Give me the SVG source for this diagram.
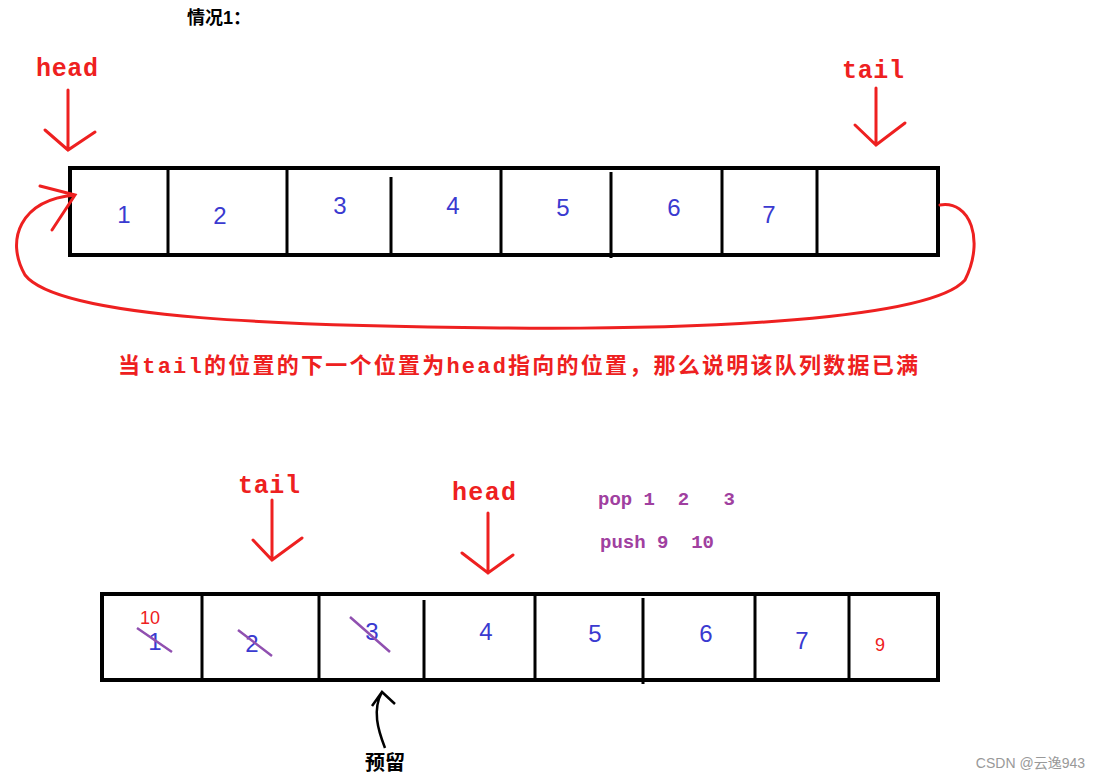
<svg xmlns="http://www.w3.org/2000/svg" width="1099" height="779" viewBox="0 0 1099 779">
<style>
.box{fill:none;stroke:#000;stroke-width:4}
.dv{stroke:#000;stroke-width:3}
.n{font-family:"Liberation Sans",sans-serif;font-size:24px;fill:#3a3ad0;text-anchor:middle}
.red{fill:#ee2020;font-family:"Liberation Mono","Noto Sans CJK SC",monospace;font-weight:bold}
.ra{fill:none;stroke:#ee2020;stroke-width:3;stroke-linecap:round}
.pu{fill:#a040a0;font-family:"Liberation Mono",monospace;font-weight:bold;font-size:19px}
.st{stroke:#9050b0;stroke-width:2.5}
</style>
<rect width="1099" height="779" fill="#fff"/>
<text x="187" y="24" font-family="Liberation Sans,Noto Sans CJK SC,sans-serif" font-weight="bold" font-size="18">情况1：</text>
<g id="row1">
<rect class="box" x="70" y="168" width="868" height="87"/>
<path class="dv" d="M168 168V255M287 168V255M391 177V255M501 168V255M611 172V258M722 168V255M817 168V255"/>
<text class="n" x="124" y="223">1</text><text class="n" x="220" y="224">2</text><text class="n" x="340" y="214">3</text><text class="n" x="453" y="214">4</text><text class="n" x="563" y="216">5</text><text class="n" x="674" y="216">6</text><text class="n" x="769" y="223">7</text>
</g>
<g id="head1"><text class="red" x="36" y="76" font-size="25" textLength="62">head</text><path class="ra" d="M68 90V150M45 130L68 150L95 132"/></g>
<g id="tail1"><text class="red" x="842" y="78" font-size="25" textLength="62">tail</text><path class="ra" d="M876 88V145M855 125L876 145L905 123"/></g>
<g id="connectors">
<path class="ra" stroke-width="2" d="M940 205C970 200 985 240 965 280C930 320 700 330 500 328C300 326 60 320 25 275C5 240 20 200 75 195M40 186L75 195L52 230"/>
<path fill="none" stroke="#000" stroke-width="2.5" d="M385 748C378 730 372 710 382 692M372 706L382 692L395 704"/>
</g>
<text class="red" x="118" y="373" font-size="22" textLength="800">当tail的位置的下一个位置为head指向的位置，那么说明该队列数据已满</text>
<g id="row2">
<rect class="box" x="102" y="594" width="836" height="86"/>
<path class="dv" d="M202 594V680M319 594V680M424 600V680M535 594V680M643 598V684M755 594V680M849 594V680"/>
<text class="n" x="155" y="650">1</text><text class="n" x="252" y="652">2</text><text class="n" x="372" y="640">3</text><text class="n" x="486" y="640">4</text><text class="n" x="595" y="642">5</text><text class="n" x="706" y="642">6</text><text class="n" x="802" y="649">7</text>
<path class="st" d="M137 628L172 652M238 630L272 656M350 617L390 652"/>
<text x="150" y="624" fill="#ee2020" font-family="Liberation Sans,sans-serif" font-size="18" text-anchor="middle">10</text>
<text x="880" y="651" fill="#ee2020" font-family="Liberation Sans,sans-serif" font-size="18" text-anchor="middle">9</text>
</g>
<g id="tail2"><text class="red" x="238" y="493" font-size="25" textLength="62">tail</text><path class="ra" d="M272 500V560M253 540L272 560L302 538"/></g>
<g id="head2"><text class="red" x="452" y="500" font-size="25" textLength="64">head</text><path class="ra" d="M488 513V573M462 553L488 573L513 555"/></g>
<text class="pu" x="598" y="505" xml:space="preserve">pop 1  2   3</text>
<text class="pu" x="600" y="548" xml:space="preserve">push 9  10</text>
<text x="385" y="770" font-family="Liberation Sans,Noto Sans CJK SC,sans-serif" font-weight="bold" font-size="20" text-anchor="middle">预留</text>
<text x="1085" y="768" fill="#999" font-family="Liberation Sans,Noto Sans CJK SC,sans-serif" font-size="14" text-anchor="end">CSDN @云逸943</text>
</svg>
